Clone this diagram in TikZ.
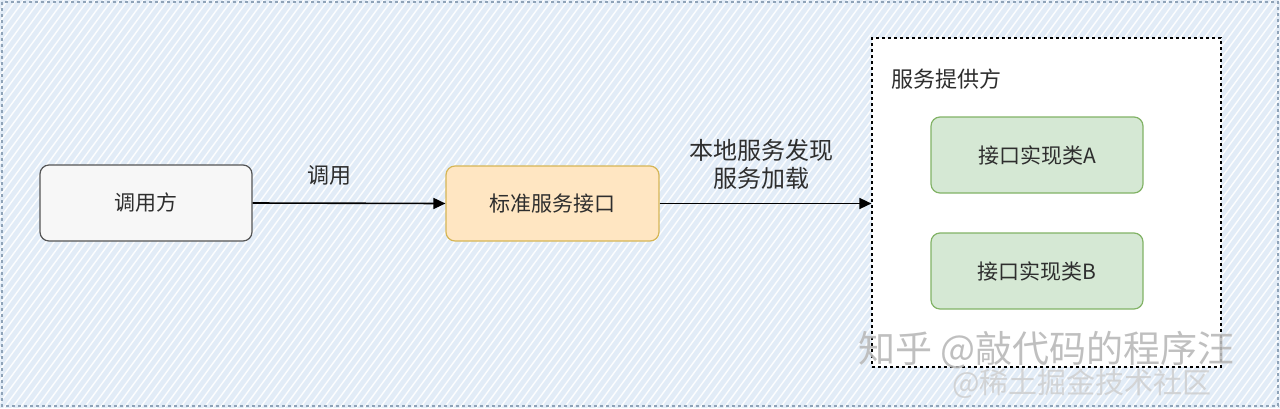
\documentclass[tikz,border=0pt]{standalone}
\usepackage{fontspec}
\setmainfont{Noto Sans CJK SC}
\usetikzlibrary{arrows.meta}
\definecolor{bgblue}{HTML}{E2ECF7}
\definecolor{frameblue}{HTML}{8FA3B8}
\definecolor{txt}{HTML}{2E2E2E}
\definecolor{grayfill}{HTML}{F7F7F7}
\definecolor{grayline}{HTML}{555555}
\definecolor{orfill}{HTML}{FFE6C2}
\definecolor{orline}{HTML}{D6B656}
\definecolor{grfill}{HTML}{D5E8D4}
\definecolor{grline}{HTML}{82B366}
\tikzset{
  box/.style={draw, rounded corners=9pt, line width=1.2pt, minimum width=212pt, minimum height=76pt, font=\fontsize{21pt}{24pt}\selectfont, text=txt, inner sep=0pt},
  conn/.style={-{Triangle[length=12pt,width=11pt]}, line width=1.6pt, draw=black},
  lbl/.style={font=\fontsize{22pt}{28pt}\selectfont, text=txt, align=center},
  biglbl/.style={font=\fontsize{24pt}{28pt}\selectfont, text=txt, align=center},
}
\begin{document}
\begin{tikzpicture}[x=1pt,y=-1pt]
\useasboundingbox (0,0) rectangle (1280,408);
\fill[bgblue] (0,0) rectangle (1280,408);
\begin{scope}
\clip (0,0) rectangle (1280,408);
\foreach \i in {-300,-292,...,1290} {
  \draw[white, line width=1.4pt, opacity=0.9] (\i,408) -- (\i+300,0);
}
\end{scope}
\draw[frameblue, dashed, line width=1.6pt] (2,2) rectangle (1278,406);

% provider container
\node[draw=black, dashed, fill=white, line width=1.2pt, minimum width=349pt, minimum height=329pt, inner sep=0pt] (prov) at (1046.5,202.5) {};
\node[lbl, anchor=west, inner sep=0pt] (provlbl) at (891,79) {服务提供方};

\node[box, fill=grayfill, draw=grayline] (caller) at (146,203) {调用方};
\node[box, fill=orfill, draw=orline, minimum width=213pt, minimum height=75pt] (std) at (552.5,203.5) {标准服务接口};
\node[box, fill=grfill, draw=grline] (implA) at (1037,155) {接口实现类A};
\node[box, fill=grfill, draw=grline] (implB) at (1037,271) {接口实现类B};

\draw[conn] (caller.east) -- (std.west) node[midway, above=14pt, lbl, xshift=-20pt] (l1) {调用};
\draw[conn] (std.east) -- (prov.west |- std.east) node[midway, above=10pt, biglbl, xshift=-4pt] (l2) {本地服务发现\\服务加载};

% watermarks
\node[anchor=west, font=\fontsize{37pt}{37pt}\selectfont, text=gray!55, opacity=0.9, inner sep=0pt] (wm1) at (858,350) {知乎 @敲代码的程序汪};
\node[anchor=west, font=\fontsize{29pt}{29pt}\selectfont, text=gray!40, opacity=0.8, inner sep=0pt] (wm2) at (952,384) {@稀土掘金技术社区};
\end{tikzpicture}
\end{document}
